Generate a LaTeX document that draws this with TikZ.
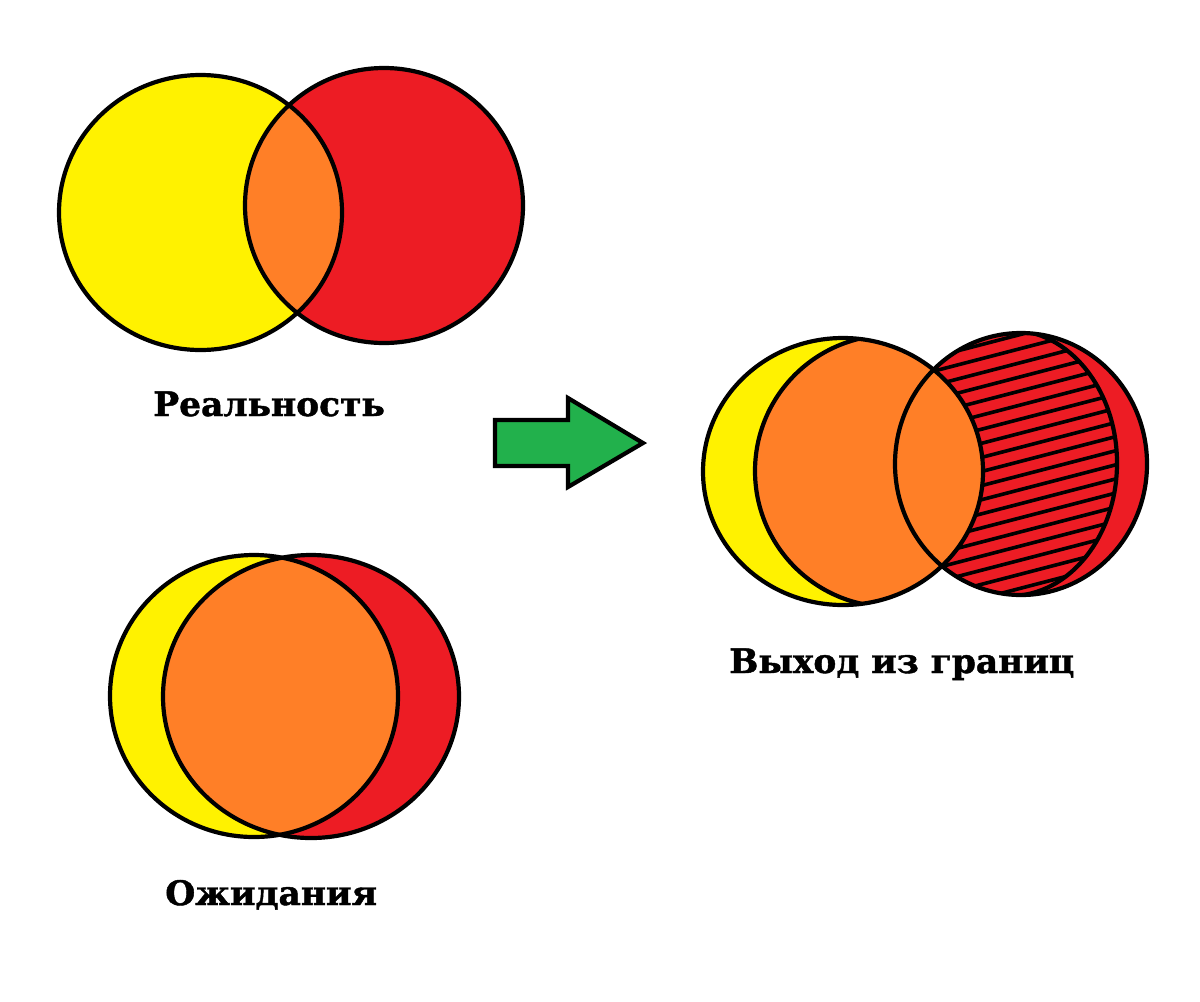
\documentclass[tikz,border=0pt]{standalone}
\usepackage{fontspec}
\setmainfont{DejaVu Serif}
\newfontfamily\capfont{DejaVu Serif}[BoldFeatures={FakeBold=1.3,FakeStretch=1.02}]
\definecolor{pyellow}{RGB}{255,242,0}
\definecolor{pred}{RGB}{237,28,36}
\definecolor{porange}{RGB}{255,127,39}
\definecolor{pgreen}{RGB}{34,177,76}
\begin{document}
\begin{tikzpicture}[x=0.025cm,y=0.025cm,
  outline/.style={draw=black,line width=0.105cm},
  hatchline/.style={draw=black,line width=0.09cm},
  caption/.style={font=\capfont\fontsize{24pt}{28pt}\selectfont\bfseries,inner sep=0pt,anchor=base west}]
\useasboundingbox (0,0) rectangle (1200,-1001);
\fill[white] (0,0) rectangle (1200,-1001);
% paths
\def\Yone{(200.5,-212.5) ellipse [x radius=141.5, y radius=137.5]}
\def\Rone{(384,-205.5) ellipse [x radius=139, y radius=137.5]}
\def\Ytwo{(254,-696) ellipse [x radius=144, y radius=141]}
\def\Rtwo{(311,-696.5) ellipse [x radius=148, y radius=141.5]}
\def\Ythr{(843,-471.5) ellipse [x radius=140, y radius=133.5]}
\def\Athr{(891,-471) ellipse [x radius=136, y radius=136]}
\def\Rthr{(1021,-464) ellipse [x radius=126, y radius=131]}
\def\Bclip{(1010,-300) -- (1010,-330) arc [start angle=90, end angle=-90, x radius=107, y radius=133] -- (1010,-620) -- (850,-620) -- (850,-300) -- cycle}
% top: reality
\fill[pyellow] \Yone;
\fill[pred] \Rone;
\begin{scope}\clip \Yone; \fill[porange] \Rone; \end{scope}
\draw[outline] \Yone;
\draw[outline] \Rone;
% bottom: expectations
\fill[pyellow] \Ytwo;
\fill[pred] \Rtwo;
\begin{scope}\clip \Ytwo; \fill[porange] \Rtwo; \end{scope}
\draw[outline] \Ytwo;
\draw[outline] \Rtwo;
% right: going beyond
\fill[pyellow] \Ythr;
\fill[pred] \Rthr;
\begin{scope}
  \clip \Rthr;
  \clip \Bclip;
  \foreach \k in {-10,...,17} {
    \draw[hatchline] (880,{-(428.3+14.1*\k+0.26*105)}) -- (1160,{-(428.3+14.1*\k-0.26*175)});
  }
\end{scope}
\begin{scope}\clip \Ythr; \fill[porange] \Athr; \fill[porange] \Rthr; \end{scope}
\begin{scope}\clip \Ythr; \draw[outline] \Athr; \end{scope}
\begin{scope}\clip \Rthr; \draw[outline] (1010,-330) arc [start angle=90, end angle=-90, x radius=107, y radius=133]; \end{scope}
\draw[outline] \Ythr;
\draw[outline] \Rthr;
% arrow
\draw[outline,fill=pgreen] (495,-420) -- (568,-420) -- (568,-398) -- (643,-443) -- (568,-487) -- (568,-466) -- (495,-466) -- cycle;
% labels
\node[caption] (real) at (153,-416) {Реальность};
\node[caption] (ozh) at (165,-905) {Ожидания};
\node[caption] (vyh) at (729,-673) {Выход из границ};
\end{tikzpicture}
\end{document}
